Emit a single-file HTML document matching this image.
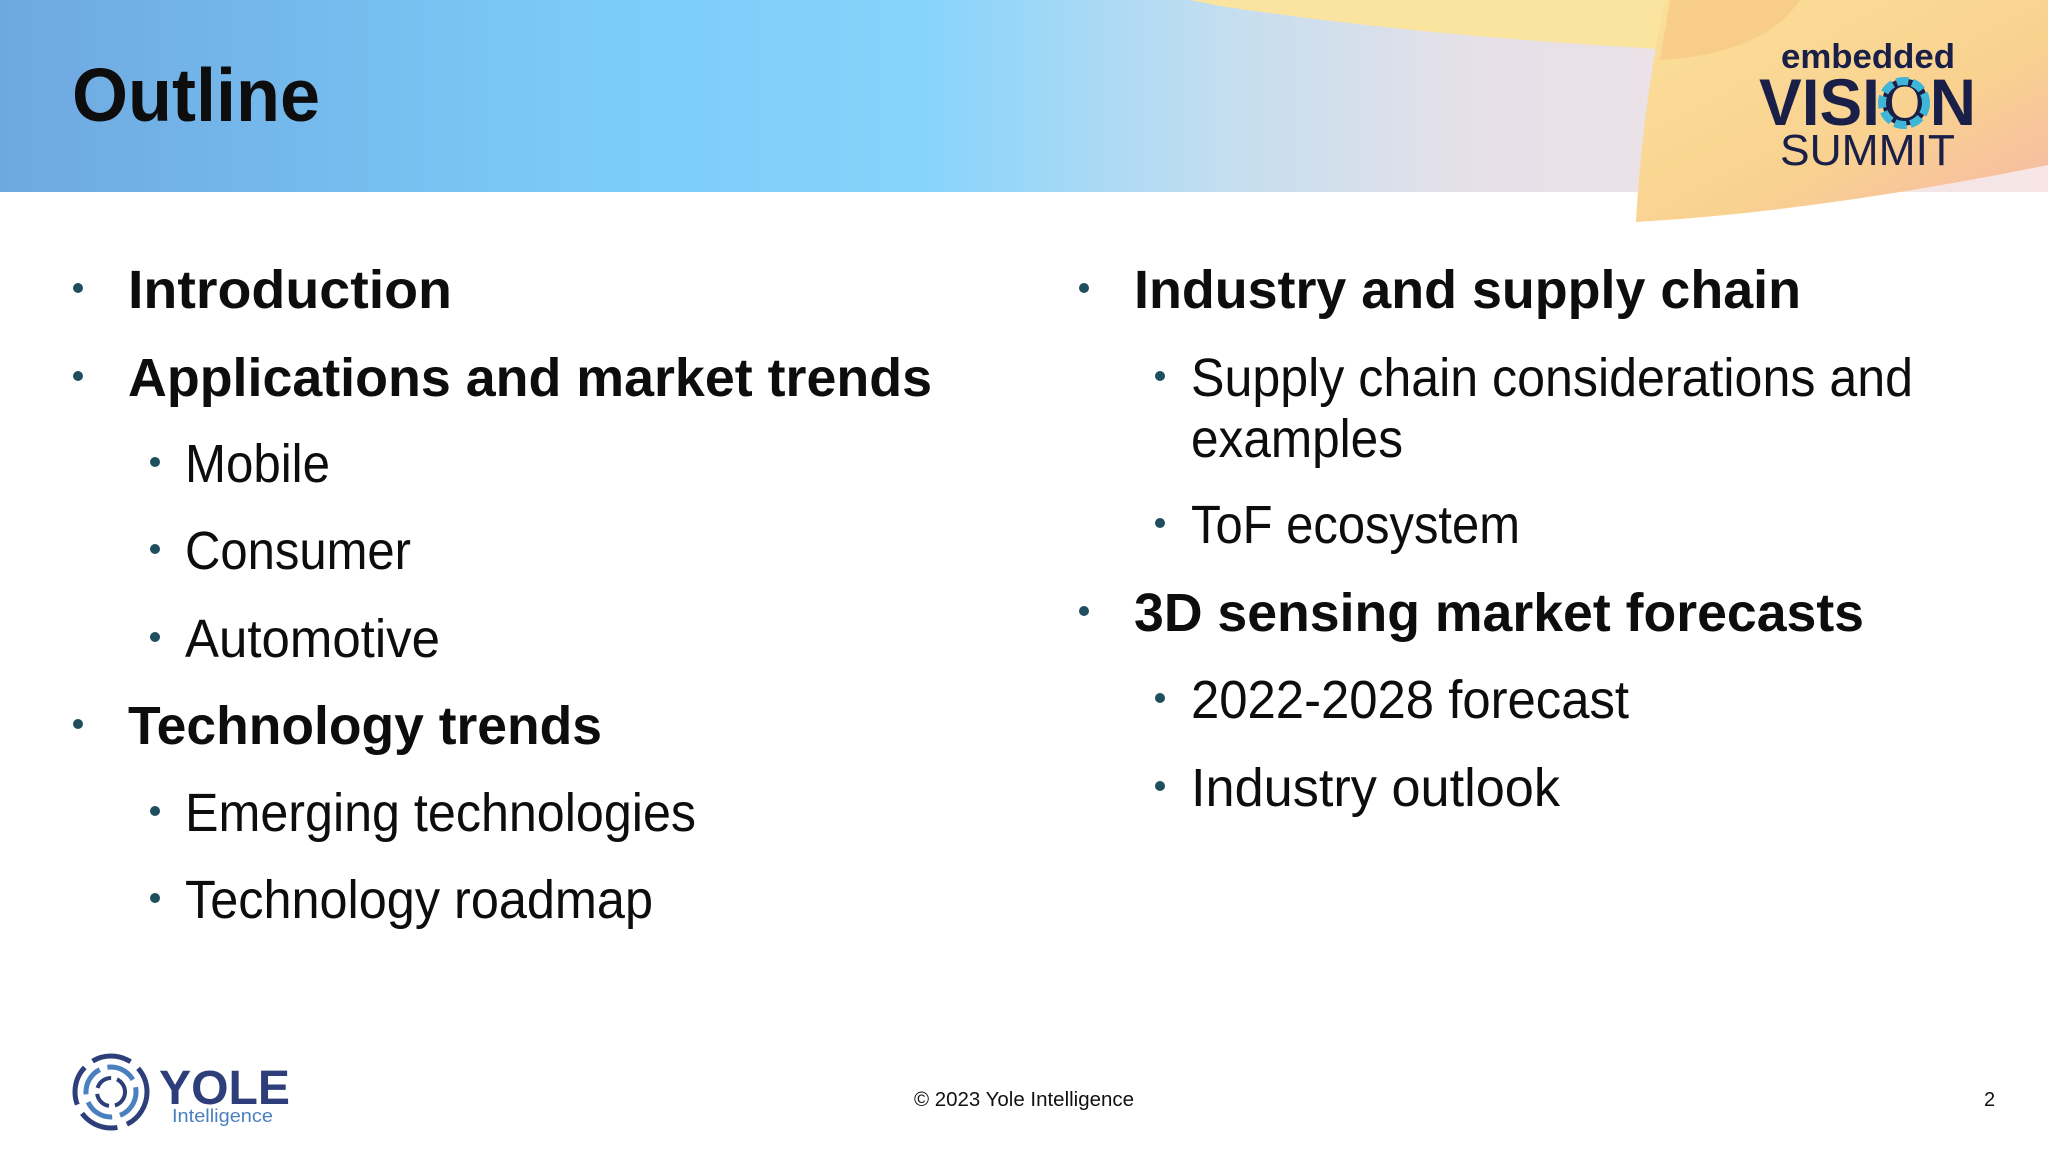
<!DOCTYPE html>
<html><head><meta charset="utf-8"><style>
html,body{margin:0;padding:0;background:#fff;}
svg{display:block;}
text{font-family:"Liberation Sans",sans-serif;}
</style></head><body>
<svg width="2048" height="1152" viewBox="0 0 2048 1152" xmlns="http://www.w3.org/2000/svg">
<defs>
<linearGradient id="hdr" x1="0" y1="0" x2="1" y2="0">
<stop offset="0" stop-color="#6ea8e0"/>
<stop offset="0.3" stop-color="#7cccf9"/>
<stop offset="0.45" stop-color="#86d3fb"/>
<stop offset="0.6" stop-color="#c4def0"/>
<stop offset="0.72" stop-color="#e6e0e8"/>
<stop offset="1" stop-color="#f8e6e6"/>
</linearGradient>
<linearGradient id="blob" x1="0" y1="0" x2="1" y2="1">
<stop offset="0" stop-color="#fbe09a"/>
<stop offset="0.6" stop-color="#f9d190"/>
<stop offset="1" stop-color="#f6b6a8"/>
</linearGradient>
</defs>
<rect x="0" y="0" width="2048" height="192" fill="url(#hdr)"/>
<path d="M1190 0 L2048 0 L2048 62 C1800 58 1500 48 1220 6 Z" fill="#fbe4a0"/>
<path d="M1665 0 L2048 0 L2048 165 C1900 195 1760 215 1636 222 C1640 150 1650 70 1665 0 Z" fill="url(#blob)"/>
<path d="M1670 0 L1800 0 C1780 30 1740 55 1660 60 Z" fill="#f6c884" opacity="0.7"/>
<text x="72" y="121" font-size="75" font-weight="bold" fill="#0d0d0d" textLength="248" lengthAdjust="spacingAndGlyphs">Outline</text>

<g fill="#1a1f48">
<text x="1781" y="68" font-size="34" font-weight="bold" textLength="174" lengthAdjust="spacingAndGlyphs">embedded</text>
<text x="1759" y="125" font-size="66" font-weight="bold" textLength="217" lengthAdjust="spacingAndGlyphs">VISION</text>
<circle cx="1904" cy="103" r="22" fill="none" stroke="#3fb6d8" stroke-width="8" stroke-dasharray="12 4"/>
<text x="1780" y="165" font-size="44" textLength="175" lengthAdjust="spacingAndGlyphs">SUMMIT</text>
</g>

<g fill="#1f4e5f">
<circle cx="78" cy="288" r="5"/>
<circle cx="78" cy="376" r="5"/>
<circle cx="155" cy="462" r="5"/>
<circle cx="155" cy="549" r="5"/>
<circle cx="155" cy="637" r="5"/>
<circle cx="78" cy="724" r="5"/>
<circle cx="155" cy="811" r="5"/>
<circle cx="155" cy="898" r="5"/>
<circle cx="1084" cy="288" r="5"/>
<circle cx="1160" cy="376" r="5"/>
<circle cx="1160" cy="523" r="5"/>
<circle cx="1084" cy="611" r="5"/>
<circle cx="1160" cy="698" r="5"/>
<circle cx="1160" cy="786" r="5"/>
</g>

<g fill="#0d0d0d" font-size="54">
<text x="128" y="308" font-weight="bold" textLength="324" lengthAdjust="spacingAndGlyphs">Introduction</text>
<text x="128" y="396" font-weight="bold" textLength="804" lengthAdjust="spacingAndGlyphs">Applications and market trends</text>
<text x="185" y="482" textLength="145" lengthAdjust="spacingAndGlyphs">Mobile</text>
<text x="185" y="569" textLength="226" lengthAdjust="spacingAndGlyphs">Consumer</text>
<text x="185" y="657" textLength="255" lengthAdjust="spacingAndGlyphs">Automotive</text>
<text x="128" y="744" font-weight="bold" textLength="474" lengthAdjust="spacingAndGlyphs">Technology trends</text>
<text x="185" y="831" textLength="511" lengthAdjust="spacingAndGlyphs">Emerging technologies</text>
<text x="185" y="918" textLength="468" lengthAdjust="spacingAndGlyphs">Technology roadmap</text>

<text x="1134" y="308" font-weight="bold" textLength="667" lengthAdjust="spacingAndGlyphs">Industry and supply chain</text>
<text x="1191" y="396" textLength="722" lengthAdjust="spacingAndGlyphs">Supply chain considerations and</text>
<text x="1191" y="457" textLength="212" lengthAdjust="spacingAndGlyphs">examples</text>
<text x="1191" y="543" textLength="329" lengthAdjust="spacingAndGlyphs">ToF ecosystem</text>
<text x="1134" y="631" font-weight="bold" textLength="730" lengthAdjust="spacingAndGlyphs">3D sensing market forecasts</text>
<text x="1191" y="718" textLength="438" lengthAdjust="spacingAndGlyphs">2022-2028 forecast</text>
<text x="1191" y="806" textLength="369" lengthAdjust="spacingAndGlyphs">Industry outlook</text>
</g>

<g>
<circle cx="111" cy="1092" r="36" fill="none" stroke="#2d3e7a" stroke-width="5" stroke-dasharray="40 10"/>
<circle cx="111" cy="1092" r="25" fill="none" stroke="#4a7fc0" stroke-width="5" stroke-dasharray="30 8"/>
<circle cx="111" cy="1092" r="14" fill="none" stroke="#2d3e7a" stroke-width="4" stroke-dasharray="18 6"/>
<text x="159" y="1104" font-size="48" font-weight="bold" fill="#2d3e7a" textLength="131" lengthAdjust="spacingAndGlyphs">YOLE</text>
<text x="172" y="1122" font-size="18" fill="#4a7fc0" textLength="101" lengthAdjust="spacingAndGlyphs">Intelligence</text>
</g>
<text x="914" y="1106" font-size="20" fill="#111" textLength="220" lengthAdjust="spacingAndGlyphs">© 2023 Yole Intelligence</text>
<text x="1984" y="1106" font-size="20" fill="#111">2</text>
</svg>
</body></html>
